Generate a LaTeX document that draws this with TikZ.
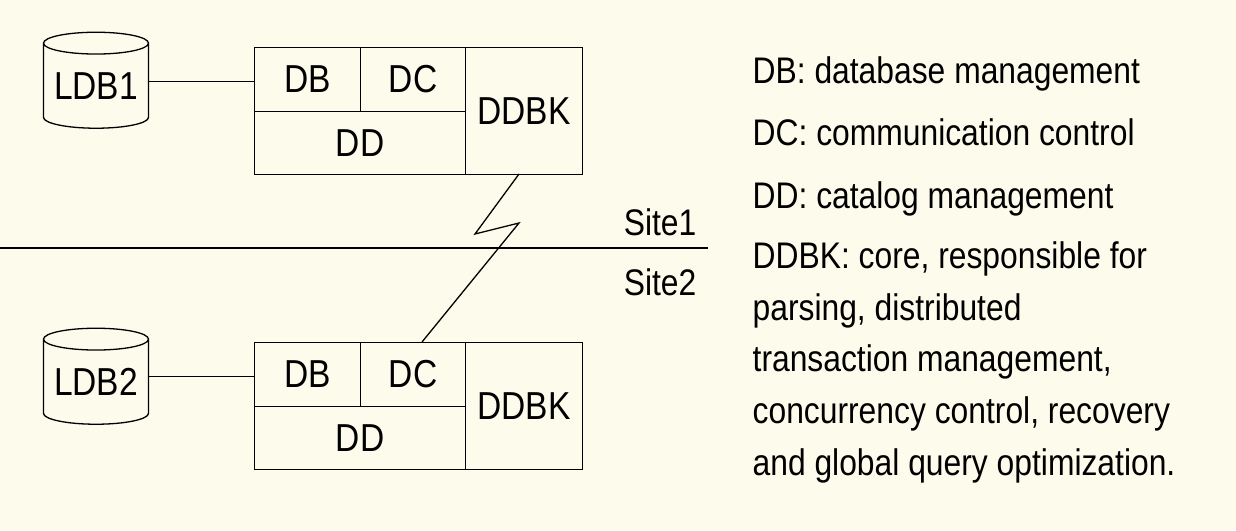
\documentclass[tikz,border=0pt]{standalone}
\usepackage{fontspec}
\setmainfont{Liberation Sans}[FakeStretch=0.86]
\usetikzlibrary{shapes.geometric}
\definecolor{bg}{HTML}{FDFBEB}
\begin{document}
\begin{tikzpicture}[x=1pt,y=-1pt,line width=1.3pt,
  cell/.style={draw,minimum width=#1,minimum height=63.5,inner sep=0,font=\fontsize{39}{42}\selectfont},
  db/.style={cylinder,shape border rotate=90,draw,aspect=0.26,minimum width=105,minimum height=96,inner sep=0,font=\fontsize{39}{42}\selectfont},
  lbl/.style={font=\fontsize{37}{40}\selectfont,anchor=base west,inner sep=0}]
\fill[bg] (0,0) rectangle (1236,530);
\useasboundingbox (0,0) rectangle (1236,530);
% top site
\node[db] (l1) at (96,86) {LDB1};
\node[cell=106,anchor=north west] (db1) at (254,47) {DB};
\node[cell=105,anchor=north west] (dc1) at (360,47) {DC};
\node[cell=211,anchor=north west] (dd1) at (254,110.5) {DD};
\node[cell=117,minimum height=127,anchor=north west] (k1) at (465,47) {DDBK};
\draw ([yshift=-2]db1.west) -- ([yshift=-2]db1.west -| l1.east);
% bottom site
\node[db] (l2) at (96,382) {LDB2};
\node[cell=106,anchor=north west] (db2) at (254,342) {DB};
\node[cell=105,anchor=north west] (dc2) at (360,342) {DC};
\node[cell=211,anchor=north west] (dd2) at (254,405.5) {DD};
\node[cell=117,minimum height=127,anchor=north west] (k2) at (465,342) {DDBK};
\draw ([yshift=-2]db2.west) -- ([yshift=-2]db2.west -| l2.east);
% link
\coordinate (z1) at (475,234);
\coordinate (z2) at (519,223);
\draw (519,174) -- (z1) -- (z2) -- (422,342);
% separator
\coordinate (s0) at (0,248);
\coordinate (s1) at (708,248);
\draw (s0) -- (s1);
\node[lbl,anchor=base east] (site1) at (697,235) {Site1};
\node[lbl,anchor=base east] (site2) at (697,295) {Site2};
% legend
\node[lbl] (t1) at (752,83) {DB: database management};
\node[lbl] (t2) at (752,145) {DC: communication control};
\node[lbl] (t3) at (752,208) {DD: catalog management};
\node[lbl] (t4) at (752,268) {DDBK: core, responsible for};
\node[lbl] (t5) at (752,320) {parsing, distributed};
\node[lbl] (t6) at (752,371) {transaction management,};
\node[lbl] (t7) at (752,423) {concurrency control, recovery};
\node[lbl] (t8) at (752,475) {and global query optimization.};
\end{tikzpicture}
\end{document}
